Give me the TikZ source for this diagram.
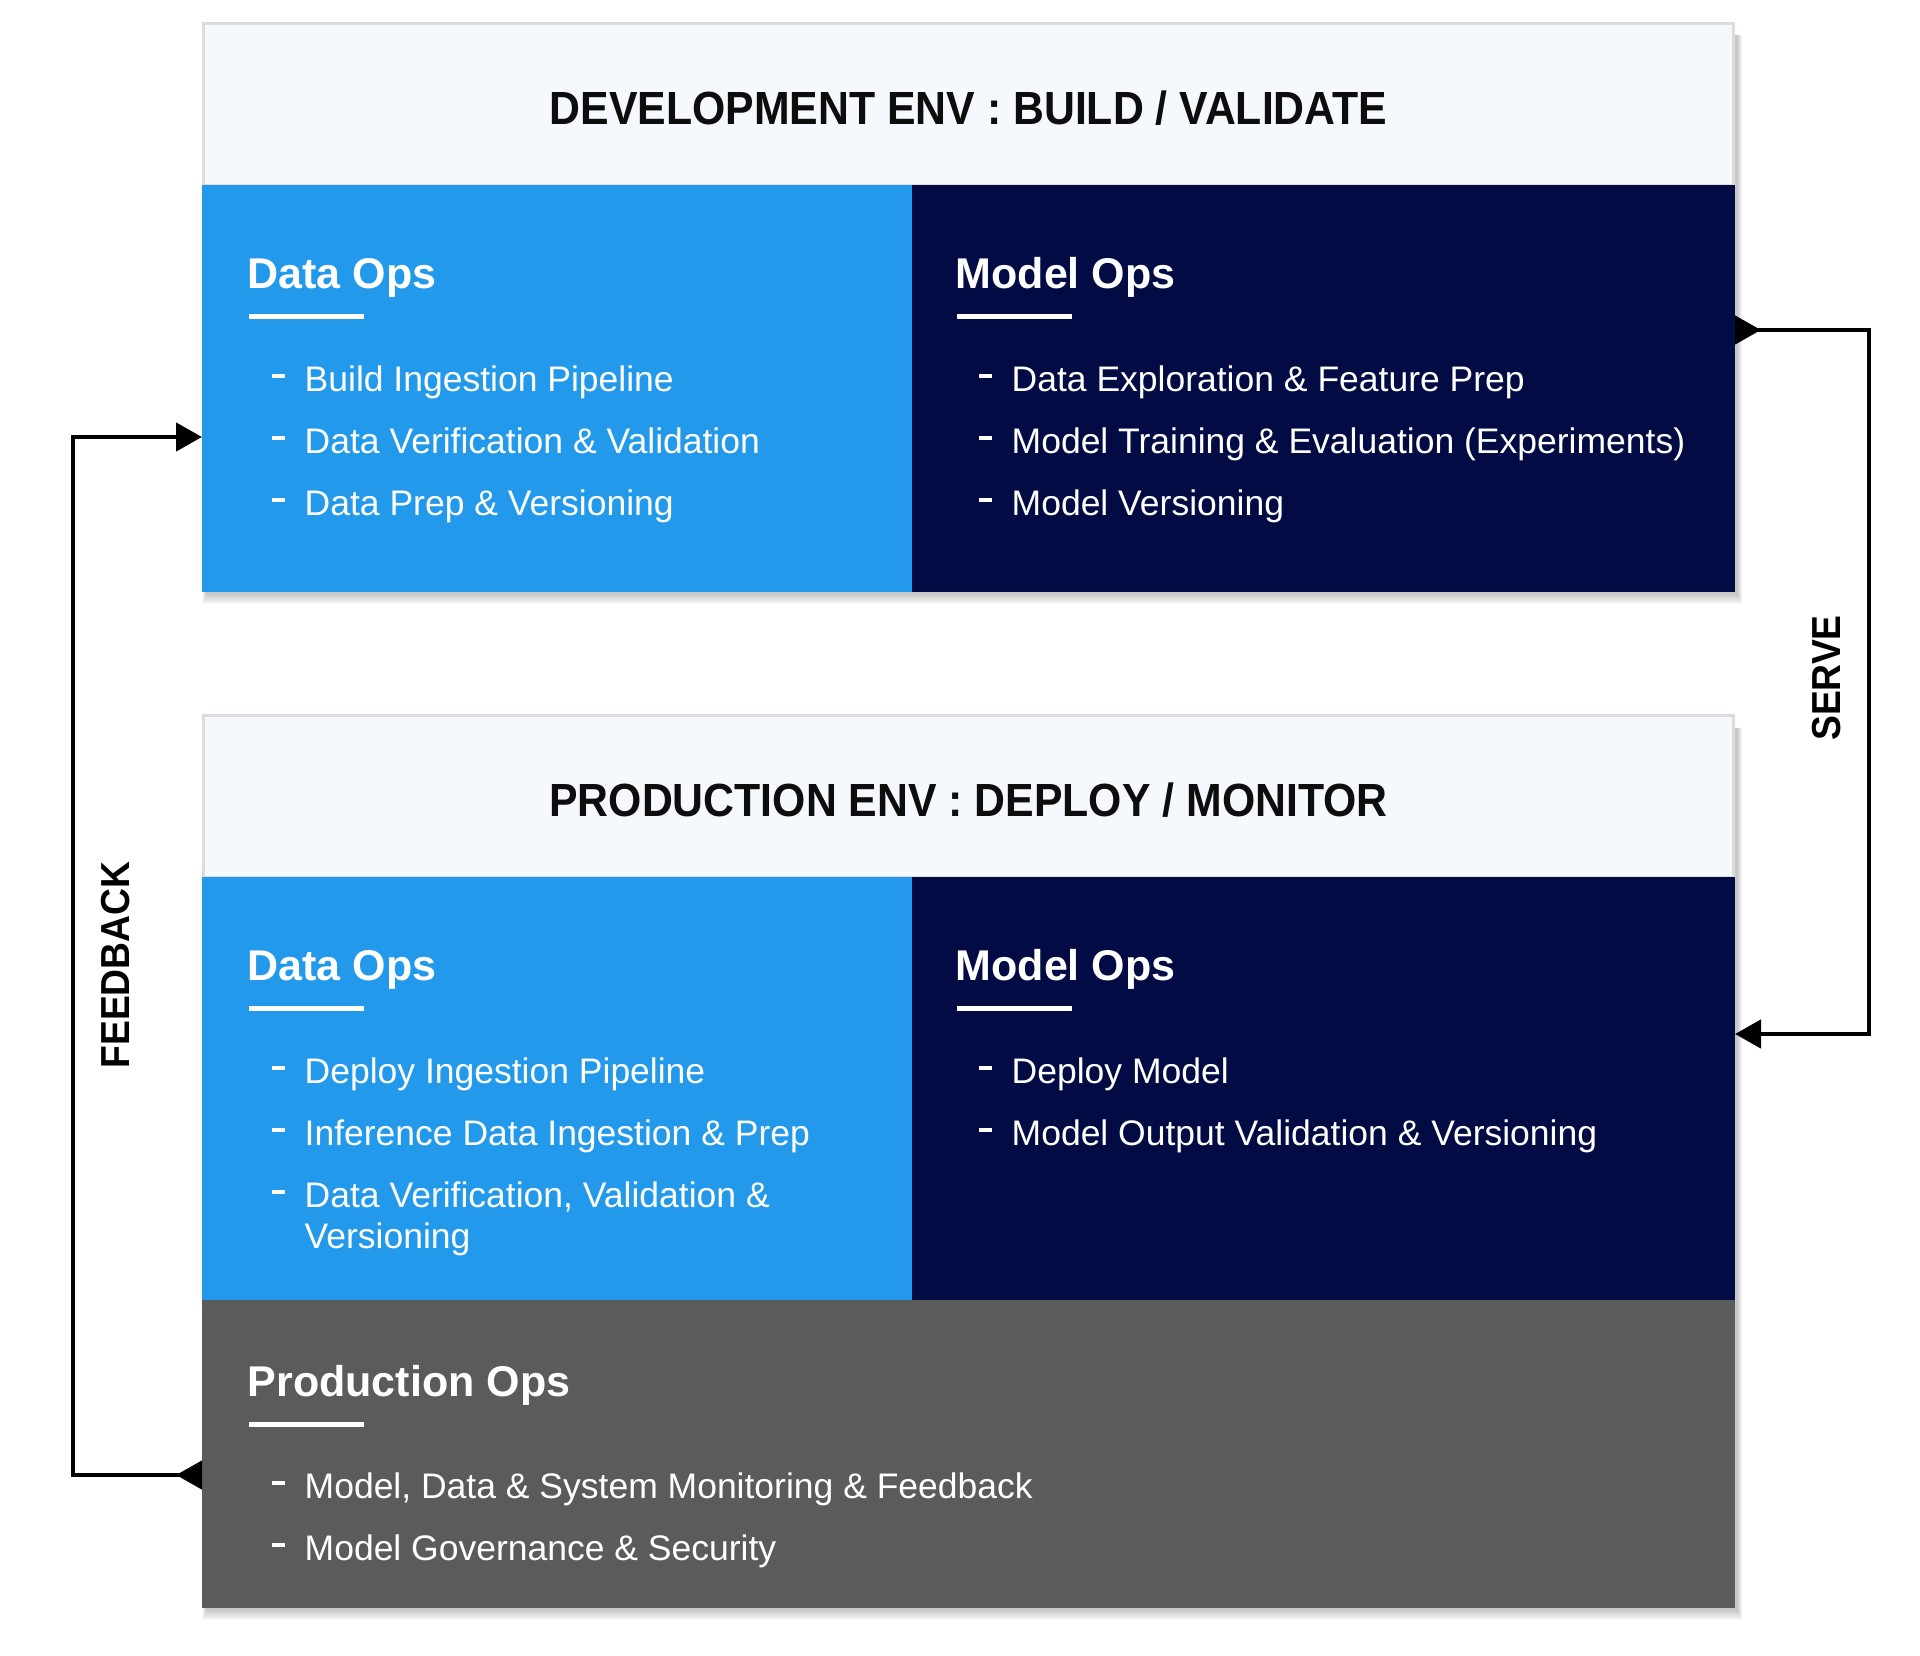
\documentclass[tikz,border=0pt]{standalone}
\usepackage{fontspec}
\setmainfont{Liberation Sans}
\newfontfamily\condfont[FakeStretch=0.92]{Liberation Sans}
\usetikzlibrary{arrows.meta,backgrounds}

\definecolor{headbg}{HTML}{F5F8FD}
\definecolor{boxline}{HTML}{DCDCDC}
\definecolor{opsblue}{HTML}{2399EC}
\definecolor{opsnavy}{HTML}{020B43}
\definecolor{opsgrey}{HTML}{5B5B5B}
\definecolor{titleblack}{HTML}{0D0D0D}

% list of items with a short bar in front
\newcommand\opslist[4]{%
  \foreach \txt [count=\k from 0] in {#4} {
    \node[opsitem] (#1-\k) at (#2,#3+62*\k) {\txt};
    \fill[white] ([shift={(-32.5,-17)}]#1-\k.base west) rectangle ++(13,4.3);
  }}
% underline below a section heading
\newcommand\opsrule[1]{%
  \fill[white] ([shift={(1.5,26.3)}]#1.base west) rectangle ++(115,5);}
% soft shadow below an env box
\newcommand\envshadow[2]{%
  \foreach \s in {1,...,10} {
    \fill[black, opacity=0.022] ([shift={(-0.4*\s+3,12)}]#1.north west)
      rectangle ([shift={(0.5*\s+2,\s+2)}]#2.south east);
  }}

\begin{document}
\begin{tikzpicture}[
    x=1pt, y=-1pt,
    panel/.style={rectangle, inner sep=0pt, outer sep=0pt, anchor=north west},
    envhead/.style={panel, fill=headbg, draw=boxline, line width=3pt,
      minimum width=1530pt, minimum height=162pt},
    envtitle/.style={font=\condfont\bfseries\fontsize{46.5}{50}\selectfont,
      text=titleblack, anchor=base, inner sep=0pt},
    opstitle/.style={font=\bfseries\fontsize{43}{48}\selectfont,
      text=white, anchor=base west, inner sep=0pt},
    opsitem/.style={font=\fontsize{35.5}{41}\selectfont,
      text=white, anchor=base west, inner sep=0pt},
    looplabel/.style={font=\condfont\bfseries\fontsize{40.5}{44}\selectfont,
      text=black, rotate=90, inner sep=0pt},
    loopline/.style={line width=4.5pt,
      {Triangle[reversed,length=26pt,width=28pt]}-{Triangle[length=26pt,width=28pt]}},
  ]
  \useasboundingbox (0,0) rectangle (1920,1656);

  % development env
  \node[envhead] (devhead) at (203.5,23.5) {};
  \node[envtitle] (devtitle) at (968.5,124.5) {DEVELOPMENT ENV : BUILD / VALIDATE};
  \node[panel, fill=opsblue, minimum width=710pt, minimum height=407pt] (devdata) at (202,185) {};
  \node[panel, fill=opsnavy, minimum width=823pt, minimum height=407pt] (devmodel) at (912,185) {};

  \node[opstitle] (devdatatitle) at (247.5,288) {Data Ops};
  \opsrule{devdatatitle}
  \opslist{devdataitem}{304.5}{391}{Build Ingestion Pipeline,
    Data Verification \& Validation, Data Prep \& Versioning}

  \node[opstitle] (devmodeltitle) at (955.5,288) {Model Ops};
  \opsrule{devmodeltitle}
  \opslist{devmodelitem}{1011.5}{391}{Data Exploration \& Feature Prep,
    Model Training \& Evaluation (Experiments), Model Versioning}

  % production env
  \node[envhead] (prodhead) at (203.5,715.5) {};
  \node[envtitle] (prodtitle) at (968.5,816.5) {PRODUCTION ENV : DEPLOY / MONITOR};
  \node[panel, fill=opsblue, minimum width=710pt, minimum height=423pt] (proddata) at (202,877) {};
  \node[panel, fill=opsnavy, minimum width=823pt, minimum height=423pt] (prodmodel) at (912,877) {};
  \node[panel, fill=opsgrey, minimum width=1533pt, minimum height=308pt] (prodops) at (202,1300) {};

  \node[opstitle] (proddatatitle) at (247.5,980) {Data Ops};
  \opsrule{proddatatitle}
  \opslist{proddataitem}{304.5}{1083}{Deploy Ingestion Pipeline,
    Inference Data Ingestion \& Prep, {Data Verification, Validation \&}}
  \node[opsitem] (proddatamore) at (304.5,1248) {Versioning};

  \node[opstitle] (prodmodeltitle) at (955.5,980) {Model Ops};
  \opsrule{prodmodeltitle}
  \opslist{prodmodelitem}{1011.5}{1083}{Deploy Model,
    Model Output Validation \& Versioning}

  \node[opstitle] (prodopstitle) at (247.5,1396) {Production Ops};
  \opsrule{prodopstitle}
  \opslist{prodopsitem}{304.5}{1498}{Model{,} Data \& System Monitoring \& Feedback,
    Model Governance \& Security}

  \begin{scope}[on background layer]
    \envshadow{devhead}{devmodel}
    \envshadow{prodhead}{prodops}
  \end{scope}

  % serve and feedback loops
  \draw[loopline] ([yshift=58.5pt]devmodel.east) -- ++(134,0) |- ([yshift=54.5pt]prodmodel.east);
  \draw[loopline] ([yshift=-21pt]prodops.west) -- ++(-129,0) |- ([yshift=-48.5pt]devdata.west);
  \node[looplabel] (servelabel) at (1826.5,678) {SERVE};
  \node[looplabel] (feedbacklabel) at (116,965) {FEEDBACK};
\end{tikzpicture}
\end{document}
